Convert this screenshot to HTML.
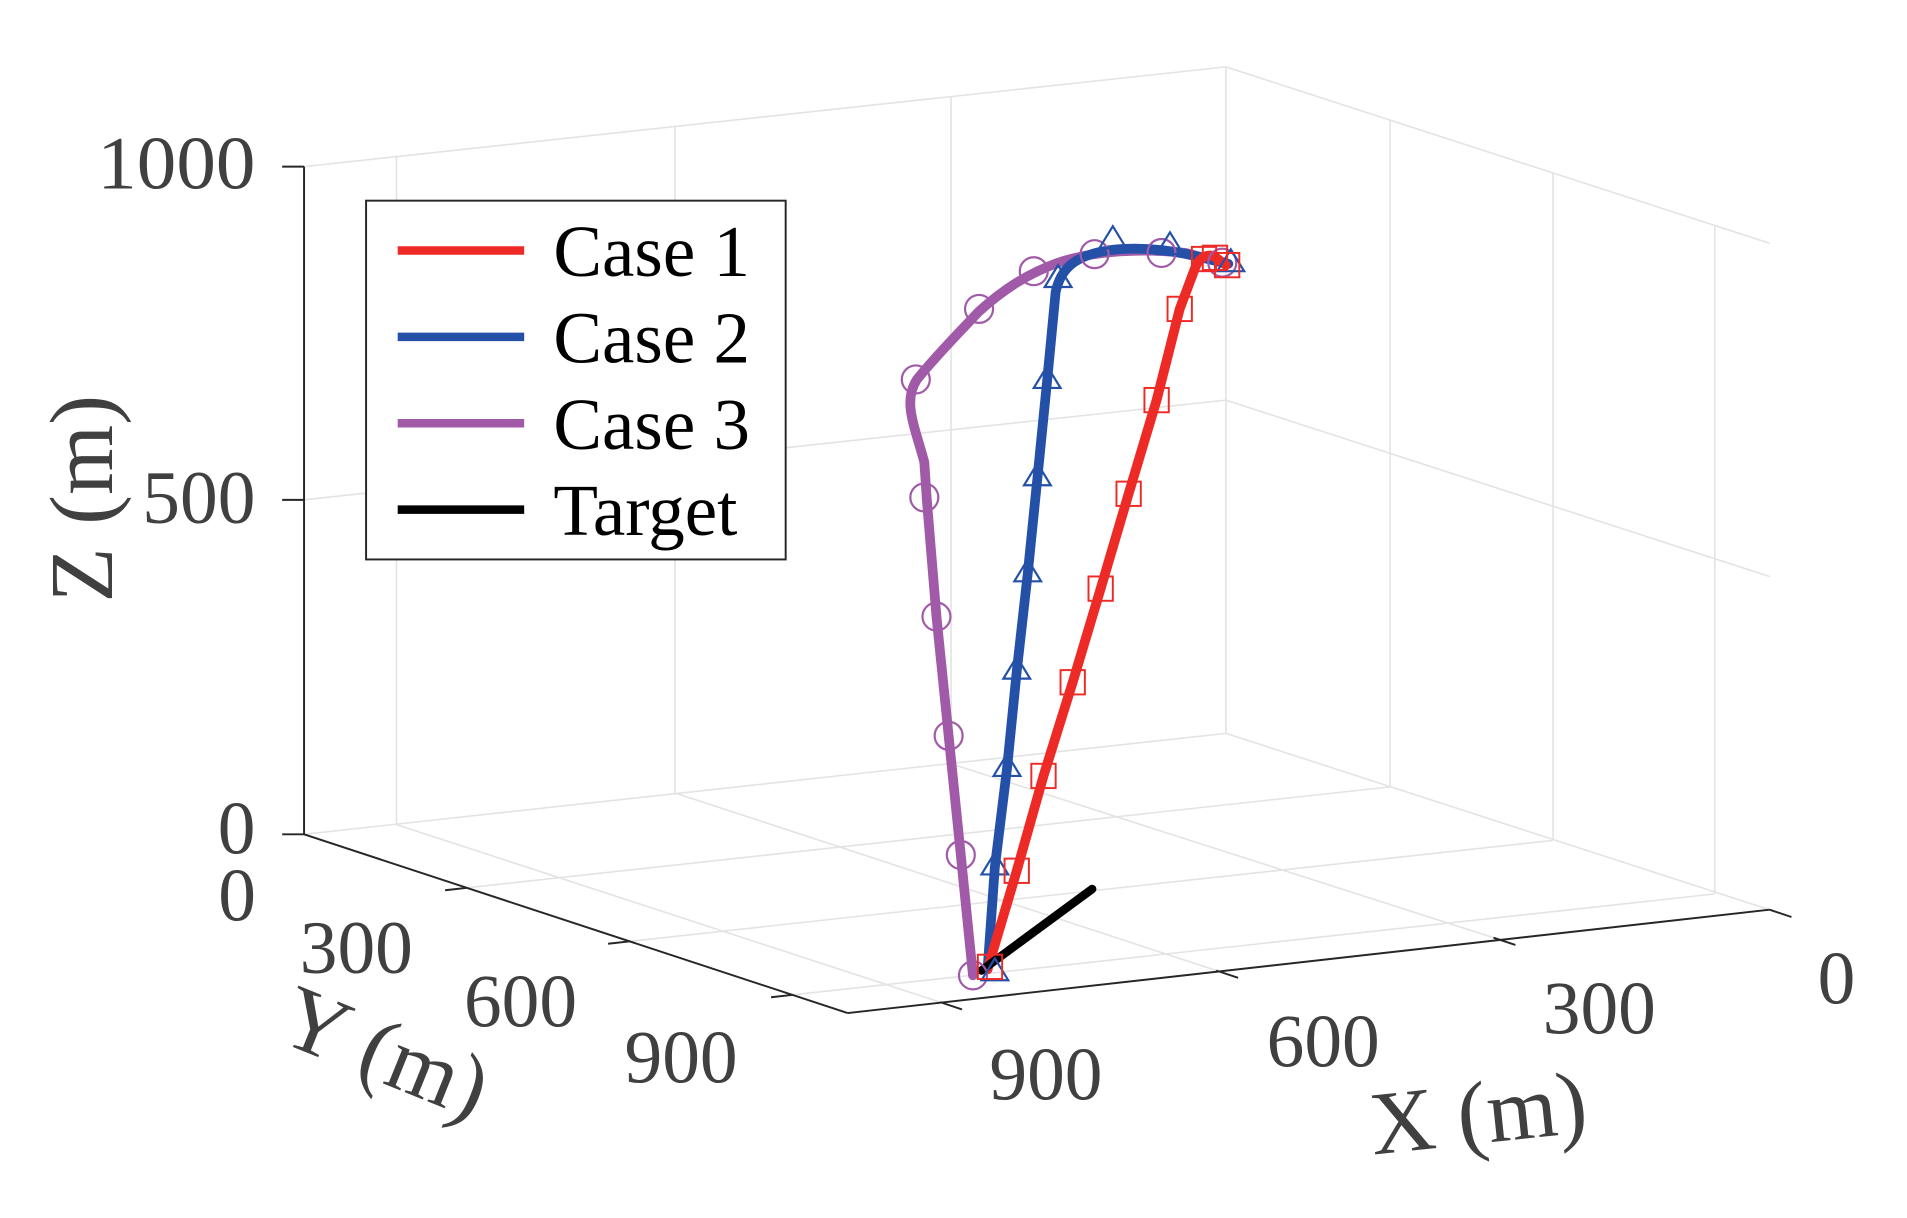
<!DOCTYPE html>
<html><head><meta charset="utf-8"><style>
html,body{margin:0;padding:0;background:#fff;}
svg{display:block;}
text{font-family:"Liberation Serif",serif;fill:#404040;}
</style></head><body>
<svg width="1907" height="1218" viewBox="0 0 1568 1001.5" preserveAspectRatio="none" xmlns="http://www.w3.org/2000/svg">
<g stroke="#e3e3e3" stroke-width="1.3" fill="none">
<line x1="250" y1="137" x2="1008" y2="55"/>
<line x1="250" y1="411" x2="1008" y2="329"/>
<line x1="326" y1="128" x2="326" y2="678"/>
<line x1="555" y1="104" x2="555" y2="652"/>
<line x1="782" y1="80" x2="782" y2="628"/>
<line x1="1008" y1="55" x2="1008" y2="603"/>
<line x1="1008" y1="55" x2="1455" y2="200"/>
<line x1="1008" y1="329" x2="1455" y2="474"/>
<line x1="1143" y1="99" x2="1143" y2="647"/>
<line x1="1277" y1="142" x2="1277" y2="691"/>
<line x1="1410" y1="186" x2="1410" y2="735"/>
<line x1="250" y1="686" x2="1008" y2="603"/>
<line x1="1008" y1="603" x2="1455" y2="748"/>
<line x1="326" y1="678" x2="773" y2="824"/>
<line x1="555" y1="652" x2="1000" y2="798"/>
<line x1="782" y1="628" x2="1228" y2="771"/>
<line x1="1143" y1="647" x2="384" y2="730"/>
<line x1="1277" y1="691" x2="518" y2="774"/>
<line x1="1410" y1="735" x2="652" y2="818"/>
</g>
<g stroke="#262626" stroke-width="1.6" fill="none">
<line x1="250" y1="137" x2="250" y2="686"/>
<line x1="232" y1="137" x2="250" y2="137"/>
<line x1="232" y1="411" x2="250" y2="411"/>
<line x1="232" y1="686" x2="250" y2="686"/>
<line x1="250" y1="686" x2="697" y2="833"/>
<line x1="384" y1="730" x2="366" y2="732"/>
<line x1="518" y1="774" x2="500" y2="776"/>
<line x1="652" y1="818" x2="634" y2="820"/>
<line x1="697" y1="833" x2="1455" y2="748"/>
<line x1="773" y1="824" x2="791" y2="830"/>
<line x1="1000" y1="798" x2="1018" y2="804"/>
<line x1="1228" y1="771" x2="1246" y2="777"/>
<line x1="1455" y1="748" x2="1473" y2="754"/>
</g>
<g font-size="62">
<text x="210" y="155" text-anchor="end" textLength="130" lengthAdjust="spacingAndGlyphs">1000</text>
<text x="210" y="430" text-anchor="end">500</text>
<text x="210" y="702" text-anchor="end">0</text>
<text x="195" y="757" text-anchor="middle">0</text>
<text x="293" y="800" text-anchor="middle">300</text>
<text x="428" y="844" text-anchor="middle">600</text>
<text x="560" y="890" text-anchor="middle">900</text>
<text x="860" y="904" text-anchor="middle">900</text>
<text x="1088" y="877" text-anchor="middle">600</text>
<text x="1315" y="850" text-anchor="middle">300</text>
<text x="1510" y="825" text-anchor="middle">0</text>
</g>
<g font-size="74">
<text transform="translate(92,410) rotate(-90)" text-anchor="middle">Z (m)</text>
<text transform="translate(308,888) rotate(22)" text-anchor="middle">Y (m)</text>
<text transform="translate(1218,940) rotate(-6)" text-anchor="middle">X (m)</text>
</g>
<g fill="none" stroke-linecap="round" stroke-linejoin="round">
<path d="M800,802 L790,703 L780,605 L770,507 L762,410 L760,380 C752,350 742,330 754,312 C770,292 790,272 805,256 C825,238 845,225 870,216 C900,206 940,204 975,208 L1005,216" stroke="#a05aa8" stroke-width="8"/>
<path d="M812,797 L818,713 L828,632 L836,552 L845,472 L853,393 L861,313 L868,240 C872,222 882,212 905,207 C930,202 960,205 985,211 L1010,217" stroke="#2450a8" stroke-width="8"/>
<path d="M812,797 L836,716 L858,638 L882,561 L905,484 L928,406 L951,329 L970,254 L982,222 C986,210 995,208 1000,212 L1008,218" stroke="#ee2a26" stroke-width="8"/>
<line x1="807" y1="798" x2="898" y2="731" stroke="#000" stroke-width="7"/>
</g>
<g fill="none" stroke="#a05aa8" stroke-width="1.8">
<circle cx="800" cy="802" r="11.5"/><circle cx="790" cy="703" r="11.5"/><circle cx="780" cy="605" r="11.5"/>
<circle cx="770" cy="507" r="11.5"/><circle cx="760" cy="409" r="11.5"/><circle cx="753" cy="312" r="11.5"/>
<circle cx="805" cy="254" r="11.5"/><circle cx="850" cy="223" r="11.5"/><circle cx="900" cy="209" r="11.5"/>
<circle cx="955" cy="208" r="11.5"/><circle cx="1005" cy="216" r="11.5"/>
</g>
<g fill="none" stroke="#2450a8" stroke-width="1.8">
<path d="M818,788l-11,18h22z M818,701l-11,18h22z M828,620l-11,18h22z M836,540l-11,18h22z M845,460l-11,18h22z M853,381l-11,18h22z M861,301l-11,18h22z M870,218l-11,18h22z M915,186l-11,18h22z M962,191l-11,18h22z M1012,205l-11,18h22z"/>
</g>
<g fill="none" stroke="#ee2a26" stroke-width="1.6">
<rect x="826" y="706" width="20" height="20"/><rect x="848" y="628" width="20" height="20"/>
<rect x="872" y="551" width="20" height="20"/><rect x="895" y="474" width="20" height="20"/>
<rect x="918" y="396" width="20" height="20"/><rect x="941" y="319" width="20" height="20"/>
<rect x="960" y="244" width="20" height="20"/><rect x="980" y="203" width="20" height="20"/>
<rect x="989" y="202" width="20" height="20"/><rect x="999" y="208" width="20" height="20"/>
<rect x="804" y="785" width="20" height="20"/>
</g>
<rect x="301" y="165" width="345" height="295" fill="#fff" stroke="#262626" stroke-width="1.6"/>
<g stroke-width="7">
<line x1="327" y1="206" x2="431" y2="206" stroke="#ee2a26"/>
<line x1="327" y1="277" x2="431" y2="277" stroke="#2450a8"/>
<line x1="327" y1="348" x2="431" y2="348" stroke="#a05aa8"/>
<line x1="327" y1="419" x2="431" y2="419" stroke="#000"/>
</g>
<g font-size="60">
<text x="455" y="227" style="fill:#000">Case 1</text>
<text x="455" y="298" style="fill:#000">Case 2</text>
<text x="455" y="369" style="fill:#000">Case 3</text>
<text x="455" y="440" style="fill:#000">Target</text>
</g>
</svg>
</body></html>
